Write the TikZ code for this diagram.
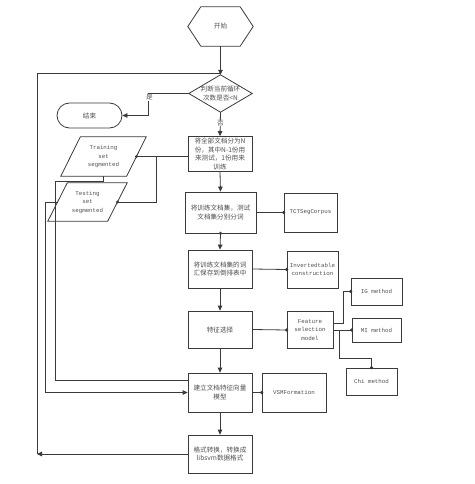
\documentclass[tikz,border=0pt]{standalone}
\usepackage{fontspec}
\setmainfont{Noto Sans CJK SC}
\newfontfamily\monof{Liberation Mono}
\usetikzlibrary{arrows.meta,shapes.misc}
\definecolor{lc}{HTML}{3A3A3A}
\definecolor{tc}{HTML}{505050}
\tikzset{
  base/.style={inner sep=0pt, text=tc, align=center, font=\fontsize{6.6}{8.5}\selectfont},
  boxn/.style={base, draw=lc, line width=0.8pt, rectangle},
  plain/.style={base},
  ebox/.style={base, draw=lc, line width=0.8pt, rectangle, font=\monof\fontsize{5.8}{8.5}\selectfont},
  eplain/.style={base, font=\monof\fontsize{5.8}{8.5}\selectfont},
  conn/.style={draw=lc, line width=0.8pt},
  arr/.style={conn, -{Triangle[length=5pt,width=4.6pt]}},
  lbl/.style={base, fill=white, inner sep=0.5pt},
  shp/.style={draw=lc, line width=0.8pt},
}
\begin{document}
\begin{tikzpicture}[x=1pt,y=-1pt]
\fill[white] (0,0) rectangle (474,484);
\useasboundingbox (0,0) rectangle (474,484);

% start hexagon
\node[plain, minimum width=65pt, minimum height=39pt] (start) at (220.5,26.5) {开始};
\draw[shp] (start.west) -- ([xshift=13pt]start.north west) -- ([xshift=-13pt]start.north east)
  -- (start.east) -- ([xshift=-13pt]start.south east) -- ([xshift=13pt]start.south west) -- cycle;

% decision diamond
\node[plain, minimum width=63pt, minimum height=37pt] (dec) at (220.5,93.5) {判断当前循环\\次数是否<N};
\draw[shp] (dec.north) -- (dec.east) -- (dec.south) -- (dec.west) -- cycle;

% end terminal
\node[boxn, rounded corners=12.5pt, minimum width=65pt, minimum height=25pt] (end) at (89.5,115.5) {结束};

% main boxes
\node[boxn, minimum width=64pt, minimum height=35pt] (b1) at (220,154) {将全部文档分为N\\份，其中N-1份用\\来测试，1份用来\\训练};
\node[boxn, minimum width=71pt, minimum height=41pt] (b2) at (220.5,212.5) {将训练文档集，测试\\文档集分别分词};
\node[boxn, minimum width=64pt, minimum height=38pt] (b3) at (220,269) {将训练文档集的词\\汇保存到倒排表中};
\node[boxn, minimum width=64pt, minimum height=37pt] (b4) at (220,329.5) {特征选择};
\node[boxn, minimum width=64pt, minimum height=39pt] (b5) at (220,392.5) {建立文档特征向量\\模型};
\node[boxn, minimum width=64pt, minimum height=38pt] (b6) at (220,454) {格式转换，转换成\\libsvm数据格式};

% side boxes
\node[ebox, minimum width=53pt, minimum height=39pt] (tct) at (310.5,212.5) {TCTSegCorpus};
\node[ebox, minimum width=51pt, minimum height=37pt] (inv) at (312.5,269.5) {Invertedtable\\construction};
\node[ebox, minimum width=46pt, minimum height=37pt] (fsm) at (310,330) {Feature\\selection\\model};
\node[ebox, minimum width=51pt, minimum height=27pt] (ig) at (376.5,291.5) {IG method};
\node[ebox, minimum width=49pt, minimum height=24pt] (mi) at (376.5,330) {MI method};
\node[ebox, minimum width=51pt, minimum height=27pt] (chi) at (371.5,381.5) {Chi method};
\node[ebox, minimum width=64pt, minimum height=39pt] (vsm) at (294,392.5) {VSMFormation};

% parallelograms
\node[eplain, minimum width=85pt, minimum height=39pt] (tr) at (103.5,156.5) {Training\\set\\segmented};
\draw[shp] ([xshift=19.5pt]tr.north west) -- (tr.north east) -- ([xshift=-19.5pt]tr.south east) -- (tr.south west) -- cycle;
\node[eplain, minimum width=79pt, minimum height=38pt] (te) at (87.5,202) {Testing\\set\\segmented};
\draw[shp] ([xshift=19.5pt]te.north west) -- (te.north east) -- ([xshift=-19.5pt]te.south east) -- (te.south west) -- cycle;
\coordinate (trR) at ([xshift=-9.75pt]tr.east);
\coordinate (teR) at ([xshift=-9.75pt]te.east);
\coordinate (teL) at ([xshift=9.75pt]te.west);
\coordinate (jt) at (156,156.5);
\coordinate (lp) at (37,454);

% main flow
\draw[arr] (start.south) -- (dec.north);
\draw[arr] (dec.south) -- (b1.north);
\node[lbl] at (220.5,123) {否};
\draw[arr] (dec.west) -- ++(-40,0) |- (end.east);
\node[lbl] at (149.5,97.5) {是};
\draw[arr] (b1.south) -- (b2.north);
\draw[arr] (b2.south) -- (b3.north);
\fill[lc] (b2.south) circle (1.7pt);
\draw[arr] (b3.south) -- (b4.north);
\draw[arr] (b4.south) -- (b5.north);
\draw[arr] (b5.south) -- (b6.north);

% loop back
\draw[arr] (b6.west) -- (lp);
\draw[conn] (lp) |- ([yshift=1pt]dec.north);

% side connections
\draw[conn] (b2.east) -- (tct.west); \fill[lc] (tct.west) circle (1.7pt);
\draw[conn] (b3.east) -- (inv.west); \fill[lc] (inv.west) circle (1.7pt);
\draw[conn] (b4.east) -- (fsm.west); \fill[lc] (fsm.west) circle (1.7pt);
\draw[conn] (b5.east) -- (vsm.west); \fill[lc] (vsm.west) circle (1.7pt);
\draw[conn] ([yshift=7pt]fsm.east) -- ++(10,0) |- (ig.west); \fill[lc] (ig.west) circle (1.7pt);
\draw[conn] (fsm.east) -- (mi.west); \fill[lc] (mi.west) circle (1.7pt);
\draw[conn] ([xshift=6pt]fsm.east) -- ++(0,28) -| (chi.north); \fill[lc] (chi.north) circle (1.7pt);

% training / testing connections
\draw[conn] (trR) -- (trR -| b1.west); \fill[lc] (trR) circle (1.7pt);
\draw[conn] (teR) -| (jt); \fill[lc] (teR) circle (1.7pt);
\draw[conn] (tr.south) -- ++(0,5) -- ++(-48.5,0) |- ([yshift=12.5pt]b5.west);
\draw[arr] (teL) -- ++(-12,0) |- (b5.west);
\end{tikzpicture}
\end{document}
